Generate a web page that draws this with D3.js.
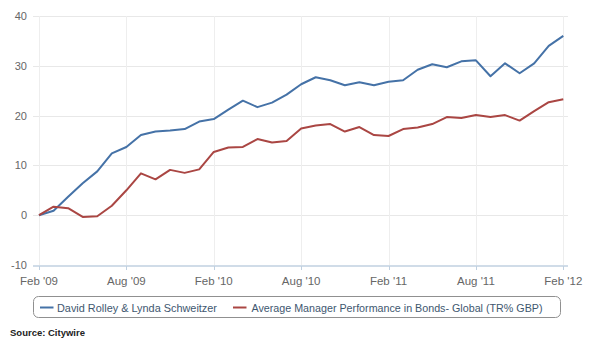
<!DOCTYPE html>
<html>
<head>
<meta charset="utf-8">
<script src="https://cdn.jsdelivr.net/npm/d3@7"></script>
<style>
  html, body { margin: 0; padding: 0; background: #fff; }
  svg { display: block; font-family: "Liberation Sans", Arial, sans-serif; }
</style>
</head>
<body>
<svg id="chart" width="600" height="346"></svg>
<script>
// ---- data ----
const tickLabels = ["Feb '09", "Aug '09", "Feb '10", "Aug '10", "Feb '11", "Aug '11", "Feb '12"];
const yTicks = [-10, 0, 10, 20, 30, 40];
const seriesNames = ["David Rolley & Lynda Schweitzer", "Average Manager Performance in Bonds- Global (TR% GBP)"];
// monthly values, Feb '09 .. Feb '12 (37 months)
const rolley = [0, 0.9, 3.7, 6.4, 8.8, 12.4, 13.7, 16.1, 16.8, 17.0, 17.3, 18.8, 19.3, 21.2, 23.0, 21.7, 22.6, 24.2, 26.3, 27.7, 27.1, 26.1, 26.7, 26.1, 26.8, 27.1, 29.2, 30.3, 29.7, 30.9, 31.1, 27.9, 30.5, 28.5, 30.5, 34.0, 36.0];
const average = [0, 1.7, 1.4, -0.35, -0.2, 1.9, 5.0, 8.4, 7.2, 9.1, 8.5, 9.2, 12.7, 13.6, 13.7, 15.3, 14.6, 14.9, 17.4, 18.0, 18.3, 16.8, 17.7, 16.1, 15.9, 17.3, 17.6, 18.3, 19.7, 19.5, 20.1, 19.7, 20.1, 19.0, 20.9, 22.7, 23.3];
const colors = ["#4572A7", "#AA4643"];

const svg = d3.select("#chart");
const plotLeft = 33, plotRight = 568;
const x = d3.scaleLinear().domain([0, 36]).range([39, 563.3]);
const y = d3.scaleLinear().domain([-10, 40]).range([265, 16]);

// horizontal grid
svg.append("g").selectAll("line").data(yTicks.filter(d => d !== -10)).join("line")
  .attr("x1", plotLeft).attr("x2", plotRight)
  .attr("y1", d => Math.round(y(d)) + 0.5).attr("y2", d => Math.round(y(d)) + 0.5)
  .attr("stroke", "#E8E8E8").attr("stroke-width", 1);

// vertical grid
const xTickIdx = tickLabels.map((_, i) => i * 6);
svg.append("g").selectAll("line").data(xTickIdx).join("line")
  .attr("x1", d => Math.round(x(d)) + 0.5).attr("x2", d => Math.round(x(d)) + 0.5)
  .attr("y1", y(40)).attr("y2", y(-10))
  .attr("stroke", "#EEEEEE").attr("stroke-width", 1);

// y axis labels
svg.append("g").selectAll("text").data(yTicks).join("text")
  .attr("x", 27).attr("y", d => y(d) + 4)
  .attr("text-anchor", "end")
  .attr("font-size", 11).attr("fill", "#666")
  .text(d => d);

// x axis line
svg.append("line")
  .attr("x1", plotLeft).attr("x2", plotRight)
  .attr("y1", 266).attr("y2", 266)
  .attr("stroke", "#C0D0E0").attr("stroke-width", 1.5);

// x ticks
svg.append("g").selectAll("line").data(xTickIdx).join("line")
  .attr("x1", d => Math.round(x(d)) + 0.5).attr("x2", d => Math.round(x(d)) + 0.5)
  .attr("y1", 266).attr("y2", 270)
  .attr("stroke", "#C0D0E0").attr("stroke-width", 1);

// x labels
svg.append("g").selectAll("text").data(xTickIdx).join("text")
  .attr("x", d => x(d)).attr("y", 285)
  .attr("text-anchor", "middle")
  .attr("font-size", 11.5).attr("fill", "#666")
  .text((d, i) => tickLabels[i]);

// lines
const line = d3.line().x((d, i) => x(i)).y(d => y(d));
[rolley, average].forEach((s, k) => {
  svg.append("path").datum(s)
    .attr("d", line)
    .attr("fill", "none")
    .attr("stroke", colors[k])
    .attr("stroke-width", 2)
    .attr("stroke-linejoin", "round");
});

// legend
svg.append("rect")
  .attr("x", 33.5).attr("y", 296.5).attr("width", 527).attr("height", 21)
  .attr("rx", 5).attr("ry", 5)
  .attr("fill", "#fff").attr("stroke", "#909090").attr("stroke-width", 1);
const legendItems = [{x: 40, tx: 57, w: 160}, {x: 233, tx: 251.5, w: 291}];
legendItems.forEach((it, k) => {
  svg.append("line")
    .attr("x1", it.x).attr("x2", it.x + 13.5)
    .attr("y1", 307.5).attr("y2", 307.5)
    .attr("stroke", colors[k]).attr("stroke-width", 2);
  svg.append("text")
    .attr("x", it.tx).attr("y", 311.5)
    .attr("font-size", 11.5).attr("fill", "#3E576F")
    .attr("textLength", it.w).attr("lengthAdjust", "spacingAndGlyphs")
    .text(seriesNames[k]);
});

// source
svg.append("text")
  .attr("x", 10).attr("y", 336)
  .attr("font-size", 9.5).attr("font-weight", "bold").attr("fill", "#222")
  .text("Source: Citywire");
</script>
</body>
</html>
